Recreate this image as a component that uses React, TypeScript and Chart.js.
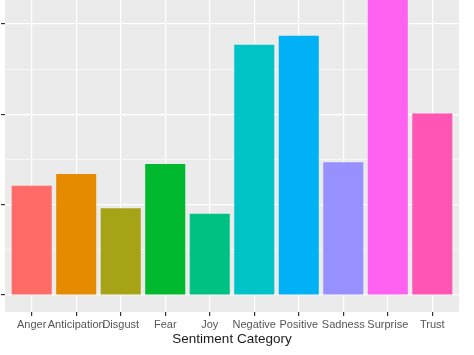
import React, { useEffect, useRef } from "react";
import { Chart, registerables } from "chart.js";

Chart.register(...registerables);

const categories = ["Anger", "Anticipation", "Disgust", "Fear", "Joy", "Negative", "Positive", "Sadness", "Surprise", "Trust"];
const values = [1.21, 1.34, 0.96, 1.45, 0.9, 2.77, 2.87, 1.47, 3.35, 2.01];
const colors = ["#FF6B66", "#E68A00", "#A6A317", "#00B92E", "#00C184", "#00C3C8", "#00B2F5", "#9691FF", "#FF62F0", "#FF55B5"];
const yMajorTicks = [0, 1, 2, 3];
const yMinorTicks = [0.5, 1.5, 2.5];
const xTitle = "Sentiment Category";

const panelBg = {
  id: "panelBg",
  beforeDraw(chart: any) {
    const { ctx, chartArea } = chart;
    ctx.save();
    ctx.fillStyle = "#EBEBEB";
    ctx.fillRect(chartArea.left, chartArea.top, chartArea.right - chartArea.left, chartArea.bottom - chartArea.top);
    ctx.restore();
  },
};

export default function App() {
  const ref = useRef<HTMLCanvasElement>(null);
  useEffect(() => {
    const allY = [...yMajorTicks, ...yMinorTicks].sort((a, b) => a - b);
    const isMajor = (v: number) => yMajorTicks.includes(v);
    const chart = new Chart(ref.current!, {
      type: "bar",
      data: {
        datasets: [
          {
            data: values.map((v, i) => ({ x: i + 1, y: v })),
            backgroundColor: colors,
            borderWidth: 0,
            barPercentage: 0.9,
            categoryPercentage: 1.0,
          },
        ],
      },
      plugins: [panelBg],
      options: {
        animation: false,
        responsive: false,
        maintainAspectRatio: false,
        layout: { padding: { left: 0, top: 0, bottom: 0, right: 15 } },
        plugins: { legend: { display: false }, tooltip: { enabled: false } },
        scales: {
          x: {
            type: "linear",
            min: 0.4,
            max: 10.6,
            offset: false,
            border: { display: false },
            afterBuildTicks: (s: any) => {
              s.ticks = categories.map((_, i) => ({ value: i + 1 }));
            },
            afterFit: (s: any) => {
              s.height = 43;
            },
            grid: {
              offset: false,
              color: "#FFFFFF",
              lineWidth: 1.2,
              tickColor: "#333333",
              tickLength: 4,
              drawTicks: true,
            },
            ticks: {
              autoSkip: false,
              maxRotation: 0,
              minRotation: 0,
              padding: 2,
              color: "#555555",
              font: { family: "Liberation Sans", size: 11 },
              callback: (v: any) => categories[Math.round(Number(v)) - 1] ?? "",
            },
            title: {
              display: true,
              text: xTitle,
              color: "#1A1A1A",
              font: { family: "Liberation Sans", size: 13.5 },
              padding: { top: 0, bottom: 8 },
            },
          },
          y: {
            type: "linear",
            min: -0.188,
            max: 3.266,
            border: { display: false },
            afterBuildTicks: (s: any) => {
              s.ticks = allY.map((v) => ({ value: v }));
            },
            afterFit: (s: any) => {
              s.width = 5;
            },
            grid: {
              color: "#FFFFFF",
              lineWidth: (c: any) => (isMajor(c.tick?.value) ? 1.2 : 0.6),
              tickColor: (c: any) => (isMajor(c.tick?.value) ? "#333333" : "rgba(0,0,0,0)"),
              tickLength: 4,
              drawTicks: true,
            },
            ticks: { display: false },
          },
        },
      },
    } as any);
    return () => chart.destroy();
  }, []);
  return (
    <div style={{ position: "fixed", left: 0, top: 0, width: 474, height: 355, background: "#FFFFFF" }}>
      <canvas ref={ref} width={474} height={355} style={{ display: "block" }} />
    </div>
  );
}
